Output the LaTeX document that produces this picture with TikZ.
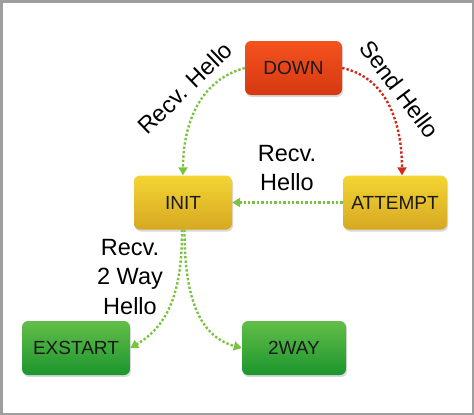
\documentclass[tikz,border=0pt]{standalone}
\usepackage{fontspec}
\setmainfont{Liberation Sans}
\usetikzlibrary{arrows, arrows.meta, shadows}

\definecolor{redtop}{HTML}{F4531F}
\definecolor{redbot}{HTML}{D63810}
\definecolor{yeltop}{HTML}{F4D534}
\definecolor{yelbot}{HTML}{D6A822}
\definecolor{grntop}{HTML}{62BE48}
\definecolor{grnbot}{HTML}{1C952E}
\definecolor{linkgreen}{HTML}{7CC242}
\definecolor{linkred}{HTML}{CE2A1C}

\begin{document}
\begin{tikzpicture}[x=1pt, y=-1pt, >={Triangle[length=8pt, width=9pt]},
  state/.style={rounded corners=6pt, minimum height=54pt, inner sep=0pt,
    text=black!90, font=\fontsize{19}{22}\selectfont,
    drop shadow={opacity=.3, shadow xshift=1pt, shadow yshift=-2pt}},
  redstate/.style={state, top color=redtop, bottom color=redbot},
  yelstate/.style={state, top color=yeltop, bottom color=yelbot},
  grnstate/.style={state, top color=grntop, bottom color=grnbot},
  link/.style={->, line width=2.4pt, dash pattern=on 2.4pt off 2pt, linkgreen},
  lbl/.style={font=\fontsize{23.5}{29.5}\selectfont, align=center, inner sep=0pt}]

\useasboundingbox (0,0) rectangle (474,415);
\draw[black!38, line width=2.5pt] (1.25,1.25) rectangle (472.75,413.75);

% states
\node[redstate, minimum width=97pt] (down) at (293.5,68) {DOWN};
\node[yelstate, minimum width=98pt] (init) at (183,202.5) {INIT};
\node[yelstate, minimum width=104pt] (attempt) at (395,202.5) {ATTEMPT};
\node[grnstate, minimum width=108pt] (exstart) at (76,348) {EXSTART};
\node[grnstate, minimum width=104pt] (twoway) at (294,348) {2WAY};

% transitions
\draw[link] (down.west) to[out=195, in=90] (init.north);
\draw[link, linkred] (down.east) to[out=-12, in=90] ([xshift=7pt]attempt.north);
\draw[link] (attempt.west) -- (init.east);
\draw[link] ([xshift=-1pt]init.south) to[out=-90, in=30] (exstart.east);
\draw[link] ([xshift=1.5pt]init.south) to[out=-90, in=165] (twoway.west);

% labels
\node[lbl, rotate=44] (recvdown) at (185,88) {Recv. Hello};
\node[lbl, rotate=-53] (senddown) at (400,89) {Send Hello};
\node[lbl] (recvattempt) at (287,168) {Recv.\\Hello};
\node[lbl] (recvtwoway) at (130,277) {Recv.\\2 Way\\Hello};

\end{tikzpicture}
\end{document}
